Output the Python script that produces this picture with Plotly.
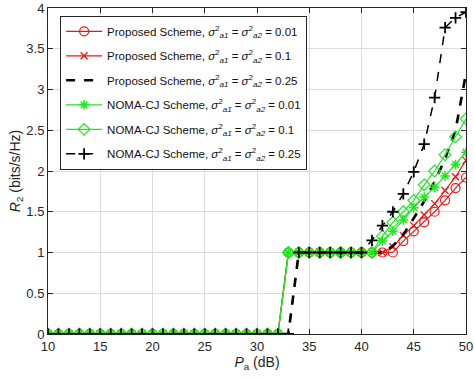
import plotly.graph_objects as go

x_vals = list(range(10, 51))

# Proposed Scheme series
prop_001 = [0]*23 + [1]*10 + [1.0, 1.14, 1.26, 1.37, 1.50, 1.64, 1.79, 1.92]
prop_01  = [0]*23 + [1]*10 + [1.07, 1.21, 1.33, 1.46, 1.60, 1.76, 1.93, 2.13]
prop_025 = [0]*24 + [1]*9 + [1.08, 1.22, 1.42, 1.63, 1.87, 2.15, 2.50, 3.20]
# NOMA-CJ Scheme series
noma_001 = [0]*23 + [1]*9 + [1.14, 1.26, 1.40, 1.55, 1.68, 1.80, 1.94, 2.08, 2.23]
noma_01  = [0]*23 + [1]*9 + [1.20, 1.37, 1.50, 1.64, 1.83, 2.00, 2.20, 2.42, 2.64]
noma_025 = [0]*24 + [1]*7 + [1.15, 1.33, 1.50, 1.72, 1.99, 2.33, 2.90, 3.76, 3.88, 3.95]

x_ticks = [10, 15, 20, 25, 30, 35, 40, 45, 50]
y_ticks = [0, 0.5, 1, 1.5, 2, 2.5, 3, 3.5, 4]
y_ticktext = ["0", "0.5", "1", "1.5", "2", "2.5", "3", "3.5", "4"]

sig = "<i>σ</i><sup>2</sup><sub><i>a1</i></sub> = <i>σ</i><sup>2</sup><sub><i>a2</i></sub>"
names = [
    f"Proposed Scheme, {sig} = 0.01",
    f"Proposed Scheme, {sig} = 0.1",
    f"Proposed Scheme, {sig} = 0.25",
    f"NOMA-CJ Scheme, {sig} = 0.01",
    f"NOMA-CJ Scheme, {sig} = 0.1",
    f"NOMA-CJ Scheme, {sig} = 0.25",
]

RED = "#f01414"
GREEN = "#1ee81e"
FONT = "Liberation Sans, Arial, sans-serif"

fig = go.Figure()
fig.add_trace(go.Scatter(x=x_vals, y=prop_001, name=names[0], mode="lines+markers", legendgroup="g1",
                         line=dict(color=RED, width=1.2),
                         marker=dict(symbol="circle-open", size=9, color=RED, line=dict(width=1.2))))
fig.add_trace(go.Scatter(x=x_vals, y=prop_01, name=names[1], mode="lines+markers", legendgroup="g2",
                         line=dict(color=RED, width=1.2),
                         marker=dict(symbol="x-thin-open", size=7, color=RED, line=dict(width=1.3, color=RED))))
fig.add_trace(go.Scatter(x=x_vals, y=prop_025, name=names[2], mode="lines", legendgroup="g3",
                         line=dict(color="black", width=2.6, dash="dash")))
fig.add_trace(go.Scatter(x=x_vals, y=noma_001, name=names[3], mode="lines+markers", legendgroup="g4",
                         line=dict(color=GREEN, width=1.2),
                         marker=dict(symbol="asterisk-open", size=8, color=GREEN, line=dict(width=1.5, color=GREEN))))
fig.add_trace(go.Scatter(x=x_vals, y=noma_01, name=names[4], mode="lines+markers", legendgroup="g5",
                         line=dict(color=GREEN, width=1.2),
                         marker=dict(symbol="diamond-open", size=9, color=GREEN, line=dict(width=1.2, color=GREEN))))
fig.add_trace(go.Scatter(x=x_vals, y=noma_025, name=names[5], mode="lines+markers", legendgroup="g6",
                         line=dict(color="black", width=1.5, dash="dash"),
                         marker=dict(symbol="cross-thin-open", size=8, color="black", line=dict(width=1.8, color="black"))))

axis_common = dict(showline=True, linecolor="#262626", linewidth=1, mirror="ticks",
                   ticks="inside", ticklen=5, tickcolor="#262626",
                   showgrid=True, gridcolor="#dcdcdc", gridwidth=1, zeroline=False,
                   tickfont=dict(family=FONT, size=13, color="#262626"))

fig.update_xaxes(range=[10, 50], tickvals=x_ticks,
                 title=dict(text="<i>P</i><sub>a</sub> (dB)", standoff=4,
                            font=dict(family=FONT, size=14, color="#262626")),
                 **axis_common)
fig.update_yaxes(range=[0, 4], tickvals=y_ticks, ticktext=y_ticktext,
                 title=dict(text="<i>R</i><sub>2</sub> (bits/s/Hz)", standoff=2,
                            font=dict(family=FONT, size=14, color="#262626")),
                 **axis_common)

fig.update_layout(
    width=474, height=380,
    margin=dict(l=48, r=8, t=8, b=46, autoexpand=False),
    plot_bgcolor="white", paper_bgcolor="white",
    font=dict(family=FONT, size=12, color="#262626"),
    legend=dict(x=0.029, y=0.976, xanchor="left", yanchor="top",
                bgcolor="white", bordercolor="#262626", borderwidth=1,
                font=dict(size=11.5, color="#111111"), itemwidth=36,
                tracegroupgap=5.5),
    showlegend=True,
)

fig.write_html("out.html", config={"displayModeBar": False},
               post_script="document.body.style.margin='0';")
